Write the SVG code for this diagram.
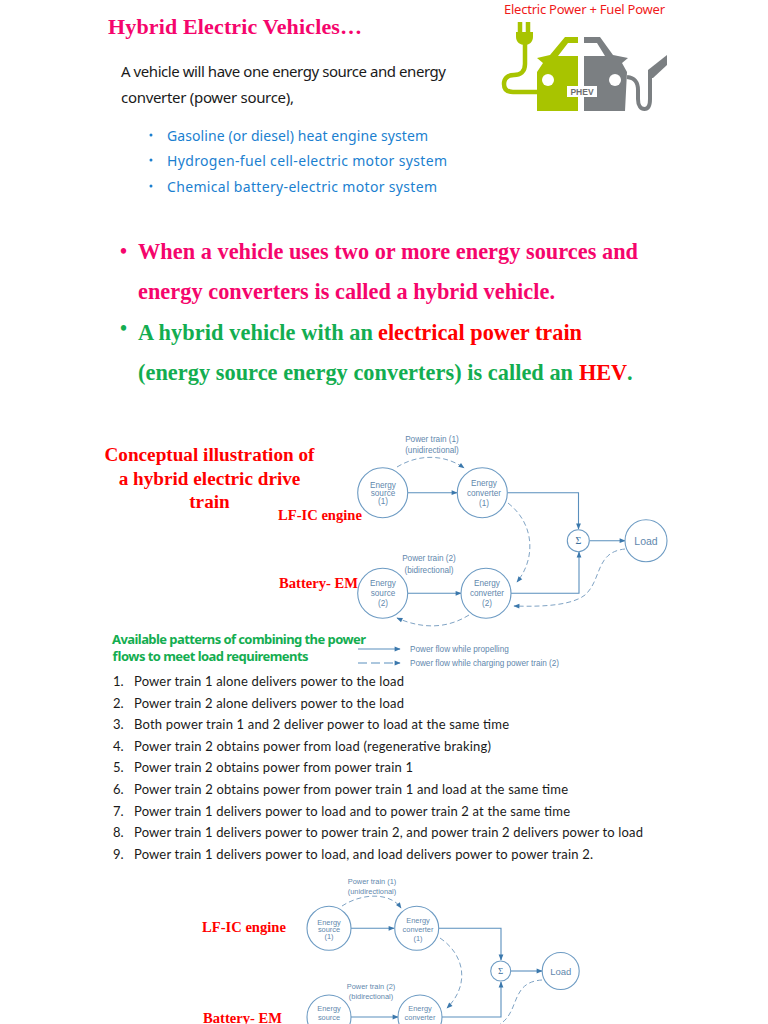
<svg xmlns="http://www.w3.org/2000/svg" width="768" height="1024" viewBox="0 0 768 1024">
<defs>
<marker id="a" viewBox="0 0 10 10" refX="9" refY="5" markerWidth="7" markerHeight="6" orient="auto" markerUnits="userSpaceOnUse"><path d="M0 1L10 5L0 9Z" fill="#3b78ac"/></marker>
</defs>
<style>
.t{font-family:"Liberation Serif",serif;font-weight:bold}
.c{font-family:"Noto Sans",sans-serif}
.k{font-family:"Lato",sans-serif;font-size:13px;fill:#1a1a1a}
.n{fill:#fff;stroke:#6d9bc3;stroke-width:1.1}
.l{fill:none;stroke:#5a8fbd;stroke-width:1.1}
.d{fill:none;stroke:#7fa3c4;stroke-width:1;stroke-dasharray:5 3}
.s{font-family:"Liberation Sans",sans-serif;font-size:8.200px;fill:#5f88ad;text-anchor:middle}
.h{font-family:"Liberation Sans",sans-serif;font-size:7.400px;fill:#5f88ad;text-anchor:middle}
.e{font-family:"Liberation Serif",serif;font-weight:bold;font-size:14.600px;fill:#f00}
.b{font-family:"Noto Sans",sans-serif;font-size:14px;fill:#1b7fd0}
</style>
<rect width="768" height="1024" fill="#fff"/>

<text class="t" x="108" y="34" font-size="22" fill="#f5056c" textLength="254">Hybrid Electric Vehicles…</text>
<text class="c" x="504" y="14" font-size="13" fill="#f01a1a" textLength="161">Electric Power + Fuel Power</text>

<g id="logo">
<path fill-rule="evenodd" d="M578 37H565L550 55L537 58L543 63L537 72V111H578V86H567V97H578ZM578 43H568L558 56H578Z" fill="#a8c400"/>
<path fill-rule="evenodd" d="M584 37H600L613 55L628 58L622 63L627 72L625 111H584V97H597V86H584ZM584 43H597L605 56H584Z" fill="#7b7f82"/>
<rect x="567" y="86" width="30" height="11" fill="#fff"/>
<circle cx="548" cy="80" r="6" fill="#fff"/><circle cx="615" cy="80" r="6" fill="#fff"/>
<text x="582" y="95" font-family="Liberation Sans,sans-serif" font-size="8.500" font-weight="bold" fill="#6d6f71" text-anchor="middle">PHEV</text>
<path d="M525 43V64C525 72 520 75 514 75C507 75 504 79 504 84C504 90 508 92 513 92H538" fill="none" stroke="#a8c400" stroke-width="4.500"/>
<path d="M520 22V33M528 22V33" stroke="#a8c400" stroke-width="4.500"/>
<path d="M516 32H533V37C533 42 529 45 525 45C520 45 516 42 516 37Z" fill="#a8c400"/>
<path d="M627 77C635 78 638 82 638 90V99C638 106 641 109 644.500 109C648 109 650 106 650 99V72" fill="none" stroke="#7b7f82" stroke-width="4"/>
<path d="M648 70L667 55V65L653 78H648Z" fill="#7b7f82"/>
</g>

<text class="c" x="121" y="77" font-size="15" fill="#1a1a1a" textLength="325">A vehicle will have one energy source and energy</text>
<text class="c" x="121" y="103" font-size="15" fill="#1a1a1a" textLength="173">converter (power source),</text>
<circle cx="151" cy="135" r="1.500" fill="#1b7fd0"/><text class="b" x="167" y="141" textLength="261">Gasoline (or diesel) heat engine system</text>
<circle cx="151" cy="160" r="1.500" fill="#1b7fd0"/><text class="b" x="167" y="166" textLength="280">Hydrogen-fuel cell-electric motor system</text>
<circle cx="151" cy="186" r="1.500" fill="#1b7fd0"/><text class="b" x="167" y="192" textLength="270">Chemical battery-electric motor system</text>

<text class="t" x="120" y="258" font-size="20" fill="#f5056c">•</text>
<text class="t" x="138" y="259" font-size="22.300" fill="#f5056c" textLength="500">When a vehicle uses two or more energy sources and</text>
<text class="t" x="138" y="299" font-size="22.300" fill="#f5056c" textLength="417">energy converters is called a hybrid vehicle.</text>
<text class="t" x="120" y="335" font-size="20" fill="#13ad50">•</text>
<text class="t" x="138" y="340" font-size="22.300" fill="#13ad50" textLength="235">A hybrid vehicle with an</text>
<text class="t" x="378" y="340" font-size="22.300" fill="#f00" textLength="204">electrical power train</text>
<text class="t" x="138" y="380" font-size="22.300" fill="#13ad50" textLength="435">(energy source energy converters) is called an</text>
<text class="t" x="579" y="380" font-size="22.300" fill="#f00" textLength="48">HEV</text>
<text class="t" x="627" y="380" font-size="22.300" fill="#13ad50">.</text>

<g font-family="Liberation Serif,serif" font-weight="bold" font-size="19.200" fill="#f00" text-anchor="middle">
<text x="209.500" y="461">Conceptual illustration of</text>
<text x="209.500" y="485">a hybrid electric drive</text>
<text x="209.500" y="508">train</text>
</g>
<text class="e" x="278" y="520">LF-IC engine</text>
<text class="e" x="279" y="588">Battery- EM</text>

<g id="connectors-top">
<path class="l" d="M408 492.700H457" marker-end="url(#a)"/>
<path class="l" d="M507.500 492.700H578.500V529" marker-end="url(#a)"/>
<path class="l" d="M408 593.300H461" marker-end="url(#a)"/>
<path class="l" d="M511 593.300H579V552" marker-end="url(#a)"/>
<path class="l" d="M589.500 540.700H625" marker-end="url(#a)"/>
<path class="d" d="M397 467C420 453 446 455 464 468" marker-end="url(#a)"/>
<path class="d" d="M508 503C536 525 535 560 517 582" marker-end="url(#a)"/>
<path class="d" d="M625 549C595 552 602 580 585 595C572 605 545 607 514 606" marker-end="url(#a)"/>
<path class="d" d="M469 615C445 630 420 628 397 618" marker-end="url(#a)"/>
</g>
<g id="n1"><circle class="n" cx="382.700" cy="492.700" r="25"/><text class="s" x="383" y="488">Energy</text><text class="s" x="383" y="496">source</text><text class="s" x="383" y="504">(1)</text></g>
<g id="n2"><circle class="n" cx="482.300" cy="492.700" r="25"/><text class="s" x="484" y="486">Energy</text><text class="s" x="484" y="496">converter</text><text class="s" x="484" y="506">(1)</text></g>
<g id="n3"><circle class="n" cx="382.700" cy="593.300" r="25"/><text class="s" x="383" y="586">Energy</text><text class="s" x="383" y="596">source</text><text class="s" x="383" y="606">(2)</text></g>
<g id="n4"><circle class="n" cx="486" cy="593.300" r="25"/><text class="s" x="487" y="586">Energy</text><text class="s" x="487" y="596">converter</text><text class="s" x="487" y="606">(2)</text></g>
<g id="n5"><circle class="n" cx="578.300" cy="540.700" r="11"/><text x="578.300" y="544" font-family="Liberation Serif,serif" font-size="10" fill="#3b6f9c" text-anchor="middle">Σ</text></g>
<g id="n6"><circle class="n" cx="646" cy="540.700" r="21"/><text x="646" y="545" font-family="Liberation Sans,sans-serif" font-size="10.500" fill="#5f88ad" text-anchor="middle">Load</text></g>
<text class="s" x="432" y="442">Power train (1)</text><text class="s" x="432" y="453">(unidirectional)</text>
<text class="s" x="429" y="561">Power train (2)</text><text class="s" x="429" y="573">(bidirectional)</text>

<text class="c" x="112" y="644" font-size="13" font-weight="bold" fill="#13ad50" textLength="254">Available patterns of combining the power</text>
<text class="c" x="112" y="661" font-size="13" font-weight="bold" fill="#13ad50" textLength="196">flows to meet load requirements</text>
<path class="l" d="M358 649H400" marker-end="url(#a)"/>
<path class="l" stroke-dasharray="9 4" d="M358 663H400" marker-end="url(#a)"/>
<text class="s" x="410" y="652" style="text-anchor:start">Power flow while propelling</text>
<text class="s" x="410" y="666" style="text-anchor:start" textLength="149">Power flow while charging power train (2)</text>

<g class="k">
<text x="113" y="686">1.</text><text x="134" y="686" textLength="270">Power train 1 alone delivers power to the load</text>
<text x="113" y="708">2.</text><text x="134" y="708" textLength="270">Power train 2 alone delivers power to the load</text>
<text x="113" y="729">3.</text><text x="134" y="729" textLength="375">Both power train 1 and 2 deliver power to load at the same time</text>
<text x="113" y="751">4.</text><text x="134" y="751" textLength="357">Power train 2 obtains power from load (regenerative braking)</text>
<text x="113" y="772">5.</text><text x="134" y="772" textLength="279">Power train 2 obtains power from power train 1</text>
<text x="113" y="794">6.</text><text x="134" y="794" textLength="434">Power train 2 obtains power from power train 1 and load at the same time</text>
<text x="113" y="816">7.</text><text x="134" y="816" textLength="436">Power train 1 delivers power to load and to power train 2 at the same time</text>
<text x="113" y="837">8.</text><text x="134" y="837" textLength="509">Power train 1 delivers power to power train 2, and power train 2 delivers power to load</text>
<text x="113" y="859">9.</text><text x="134" y="859" textLength="459">Power train 1 delivers power to load, and load delivers power to power train 2.</text>
</g>

<text class="e" x="202" y="932">LF-IC engine</text>
<text class="e" x="203" y="1023">Battery- EM</text>
<g id="connectors-bottom">
<path class="l" d="M351 928.300H394" marker-end="url(#a)"/>
<path class="l" d="M439 928.300H501V960" marker-end="url(#a)"/>
<path class="l" d="M351 1017H398" marker-end="url(#a)"/>
<path class="l" d="M442 1017H501V982" marker-end="url(#a)"/>
<path class="l" d="M511 971H542" marker-end="url(#a)"/>
<path class="d" d="M342 906C362 893 390 892 401 908" marker-end="url(#a)"/>
<path class="d" d="M440 938C465 955 470 985 447 1008" marker-end="url(#a)"/>
<path class="d" d="M542 980C510 982 520 1012 500 1024"/>
</g>
<g id="m1"><circle class="n" cx="329" cy="928.300" r="22"/><text class="h" x="329" y="925">Energy</text><text class="h" x="329" y="932">source</text><text class="h" x="329" y="939">(1)</text></g>
<g id="m2"><circle class="n" cx="416.700" cy="928.300" r="22"/><text class="h" x="418" y="923">Energy</text><text class="h" x="418" y="932">converter</text><text class="h" x="418" y="941">(1)</text></g>
<g id="m3"><circle class="n" cx="329" cy="1017" r="22"/><text class="h" x="329" y="1011">Energy</text><text class="h" x="329" y="1020">source</text></g>
<g id="m4"><circle class="n" cx="420" cy="1017" r="22"/><text class="h" x="420" y="1011">Energy</text><text class="h" x="420" y="1020">converter</text></g>
<g id="m5"><circle class="n" cx="500.700" cy="971" r="10"/><text x="500.700" y="974" font-family="Liberation Serif,serif" font-size="9" fill="#3b6f9c" text-anchor="middle">Σ</text></g>
<g id="m6"><circle class="n" cx="560.700" cy="971" r="18.500"/><text x="560.700" y="975" font-family="Liberation Sans,sans-serif" font-size="9.500" fill="#5f88ad" text-anchor="middle">Load</text></g>
<text class="h" x="372" y="884">Power train (1)</text><text class="h" x="372" y="894">(unidirectional)</text>
<text class="h" x="371" y="989">Power train (2)</text><text class="h" x="371" y="999">(bidirectional)</text>
</svg>
